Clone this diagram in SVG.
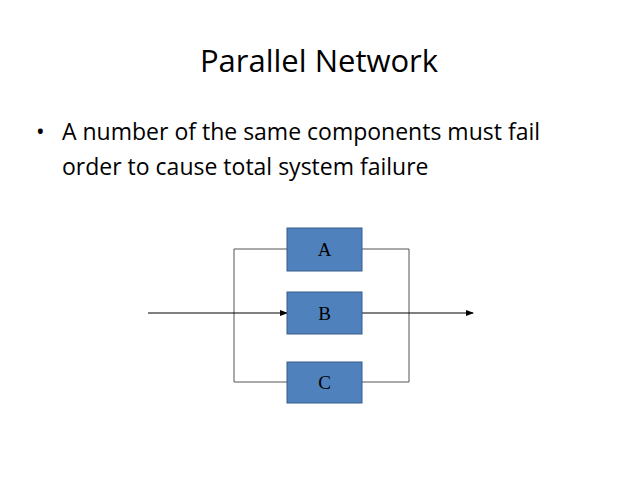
<svg xmlns="http://www.w3.org/2000/svg" width="638" height="478" viewBox="0 0 638 478">
<style>
.t{font-family:"Open Sans","Liberation Sans",sans-serif;fill:#000}
.box{fill:#4f81bd;stroke:#385d8a;stroke-width:1}
.lbl{font-family:"Liberation Serif",serif;font-size:19px;text-anchor:middle;fill:#000}
.ln{fill:none;stroke:#555;stroke-width:1}
.ar{fill:none;stroke:#000;stroke-width:1}
</style>
<defs><marker id="ah" markerWidth="8" markerHeight="6" refX="7" refY="3" orient="auto" markerUnits="userSpaceOnUse"><path d="M0,0L8,3L0,6z" fill="#000"/></marker></defs>
<rect width="638" height="478" fill="#fff"/>
<text class="t" x="319" y="72" font-size="31" text-anchor="middle">Parallel Network</text>
<text class="t" x="36" y="140" font-size="23">•</text>
<text class="t" x="62" y="140" font-size="23">A number of the same components must fail</text>
<text class="t" x="62" y="175" font-size="23">order to cause total system failure</text>
<g id="connectors">
<polyline class="ln" points="287,249 234,249 234,382 287,382"/>
<polyline class="ln" points="362,249 409,249 409,382 362,382"/>
<line class="ar" x1="148" y1="313" x2="287" y2="313" marker-end="url(#ah)"/>
<line class="ar" x1="362" y1="313" x2="473" y2="313" marker-end="url(#ah)"/>
</g>
<g id="A"><rect class="box" x="287" y="228" width="75" height="43"/><text class="lbl" x="324.5" y="256">A</text></g>
<g id="B"><rect class="box" x="287" y="292" width="75" height="42"/><text class="lbl" x="324.5" y="320">B</text></g>
<g id="C"><rect class="box" x="287" y="362" width="75" height="41"/><text class="lbl" x="324.5" y="389">C</text></g>
</svg>
